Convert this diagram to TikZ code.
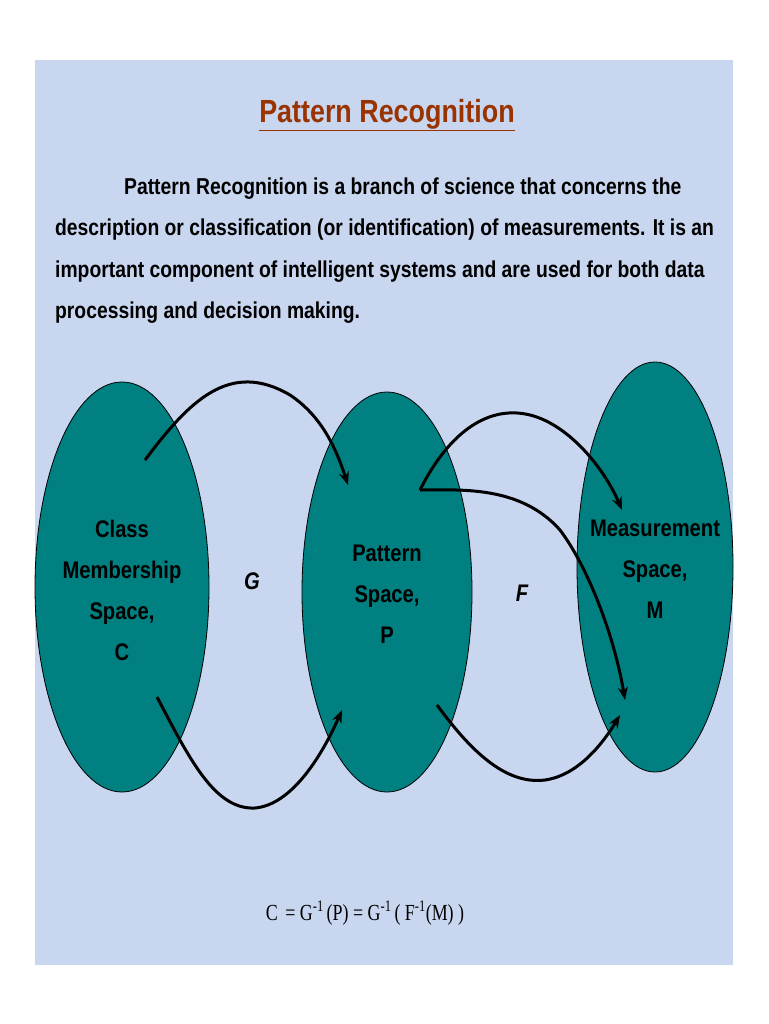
\documentclass[tikz,border=0pt]{standalone}
\usepackage{fontspec}
\setmainfont{Liberation Sans}
\newfontfamily\serifu{Liberation Serif}
\usetikzlibrary{shapes.geometric,arrows.meta}
\definecolor{bgblue}{RGB}{200,214,240}
\definecolor{teal1}{RGB}{0,128,128}
\definecolor{titlebrown}{RGB}{153,51,0}
\begin{document}
\begin{tikzpicture}[x=1pt,y=-1pt,
  txt/.style={font=\bfseries\fontsize{23}{26}\selectfont, anchor=base west, inner sep=0, xscale=0.84},
  space/.style={ellipse, fill=teal1, draw=black, line width=0.8pt, inner sep=0},
  lab/.style={font=\bfseries\fontsize{24}{41}\selectfont, align=center, xscale=0.84},
  arr/.style={-{Stealth[length=13pt,width=10pt]}, line width=3pt}]
\useasboundingbox (0,0) rectangle (768,1024);
\fill[white] (0,0) rectangle (768,1024);
\fill[bgblue] (35,60) rectangle (733,965);
\node[font=\bfseries\fontsize{32}{36}\selectfont, text=titlebrown, xscale=0.84] (title) at (387,115) {\underline{Pattern Recognition}};
\node[txt] (l1) at (124,195) {Pattern Recognition is a branch of science that concerns the};
\node[txt] (l2) at (55,236) {description or classification (or identification) of measurements. It is an};
\node[txt] (l3) at (55,277) {important component of intelligent systems and are used for both data};
\node[txt] (l4) at (55,318) {processing and decision making.};
\node[space, minimum width=174pt, minimum height=410pt] (C) at (122,587) {};
\node[space, minimum width=170pt, minimum height=400pt] (P) at (387,592) {};
\node[space, minimum width=156pt, minimum height=410pt] (M) at (655,567) {};
\node[lab] (Ct) at (122,590) {Class\\Membership\\Space,\\C};
\node[lab] (Pt) at (387,594) {Pattern\\Space,\\P};
\node[lab] (Mt) at (655,569) {Measurement\\Space,\\M};
\node[font=\bfseries\itshape\fontsize{24}{26}\selectfont, xscale=0.84] (G) at (252,581) {G};
\node[font=\bfseries\itshape\fontsize{24}{26}\selectfont, xscale=0.84] (F) at (522,593) {F};
\coordinate (c1) at (145,460); \coordinate (p1) at (348,485);
\coordinate (c2) at (157,697); \coordinate (p2) at (342,710);
\coordinate (p3) at (420,490); \coordinate (m1) at (622,510);
\coordinate (m2) at (625,700);
\coordinate (p4) at (437,705); \coordinate (m3) at (620,715);
\draw[arr] (c1) .. controls (190,400) and (230,360) .. (290,395) .. controls (320,415) and (335,445) .. (p1);
\draw[arr] (c2) .. controls (190,760) and (215,810) .. (255,808) .. controls (290,805) and (320,760) .. (p2);
\draw[arr] (p3) .. controls (450,430) and (490,405) .. (530,415) .. controls (570,425) and (605,470) .. (m1);
\draw[arr] (p3) .. controls (460,490) and (520,485) .. (560,530) .. controls (590,570) and (615,640) .. (m2);
\draw[arr] (p4) .. controls (470,750) and (505,785) .. (545,780) .. controls (580,775) and (605,740) .. (m3);
\node[font=\serifu\fontsize{23}{26}\selectfont, xscale=0.78] (eq) at (365,913) {C \,= G\textsuperscript{-1}\,(P) = G\textsuperscript{-1}\,( F\textsuperscript{-1}(M) )};
\end{tikzpicture}
\end{document}
